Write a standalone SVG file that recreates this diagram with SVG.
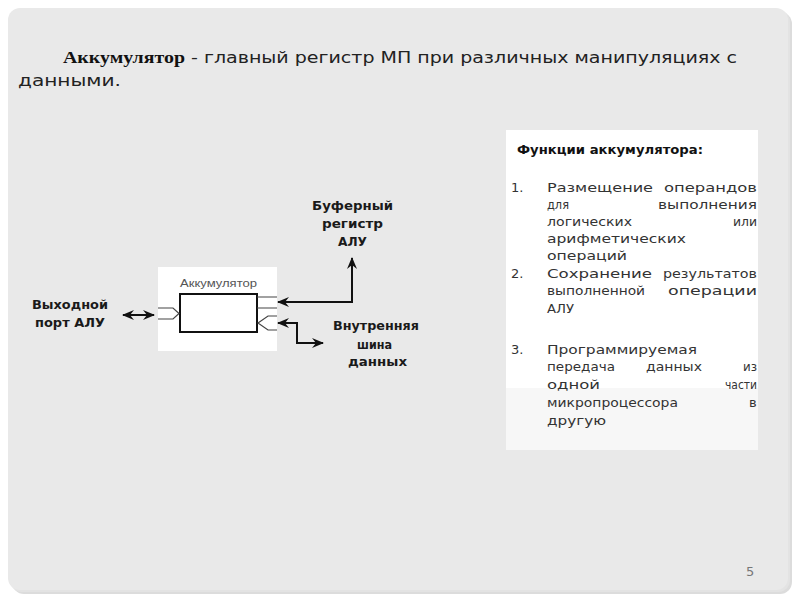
<svg xmlns="http://www.w3.org/2000/svg" width="800" height="600" viewBox="0 0 800 600">
<defs>
<style>
.t{font-family:"DejaVu Sans","Liberation Sans",sans-serif;fill:#222}
.lbl{font-family:"DejaVu Sans","Liberation Sans",sans-serif;font-weight:bold;font-size:12.5px;fill:#1a1a1a}
.li{font-family:"DejaVu Sans","Liberation Sans",sans-serif;font-size:13px;fill:#333}
.ln{stroke:#111;stroke-width:2;fill:none}
.thin{stroke:#444;stroke-width:1.2;fill:none}
</style>
<marker id="ah" viewBox="0 0 12 10" refX="11" refY="5" markerWidth="12" markerHeight="10" markerUnits="userSpaceOnUse" orient="auto-start-reverse">
<path d="M0,0 L12,5 L0,10 L4,5 Z" fill="#111"/>
</marker>
</defs>
<rect width="800" height="600" fill="#fff"/>
<rect x="12" y="12" width="780" height="582" rx="12" fill="#dcdcdc"/>
<rect x="10" y="10" width="780" height="582" rx="12" fill="#e3e3e3"/>
<rect x="8" y="8" width="780" height="582" rx="12" fill="#e9e9e9"/>

<g id="title">
<text x="63" y="63" font-family="Liberation Serif,serif" font-weight="bold" font-size="17" fill="#111" textLength="122" lengthAdjust="spacingAndGlyphs">Аккумулятор</text>
<text class="t" x="191" y="63" font-size="16" textLength="546" lengthAdjust="spacingAndGlyphs">- главный регистр МП при различных манипуляциях с</text>
<text class="t" x="18" y="86" font-size="16" textLength="103" lengthAdjust="spacingAndGlyphs">данными.</text>
</g>

<g id="accumulator">
<rect x="158" y="267" width="119" height="84" fill="#fff"/>
<text x="180" y="287" font-family="Liberation Sans,sans-serif" font-size="10.5" fill="#555" textLength="77" lengthAdjust="spacingAndGlyphs">Аккумулятор</text>
<rect x="180" y="294" width="77" height="38" fill="#fff" stroke="#111" stroke-width="2"/>
<path class="thin" d="M158,308 H173 L179,313.5 L173,319 H158"/>
<path class="thin" d="M257,297 H277 M257,308 H277"/>
<path class="thin" d="M277,316 H268 L258,323 L268,330 H277"/>
</g>

<g id="out-port">
<text class="lbl" x="32" y="309" textLength="76" lengthAdjust="spacingAndGlyphs">Выходной</text>
<text class="lbl" x="35" y="327" textLength="70" lengthAdjust="spacingAndGlyphs">порт АЛУ</text>
</g>
<g id="buffer">
<text class="lbl" x="312" y="210" textLength="81" lengthAdjust="spacingAndGlyphs">Буферный</text>
<text class="lbl" x="322" y="228" textLength="61" lengthAdjust="spacingAndGlyphs">регистр</text>
<text class="lbl" x="338" y="246" textLength="29" lengthAdjust="spacingAndGlyphs">АЛУ</text>
</g>
<g id="bus">
<text class="lbl" x="333" y="330" textLength="86" lengthAdjust="spacingAndGlyphs">Внутренняя</text>
<text class="lbl" x="357" y="349" textLength="35" lengthAdjust="spacingAndGlyphs">шина</text>
<text class="lbl" x="348" y="366" textLength="59" lengthAdjust="spacingAndGlyphs">данных</text>
</g>

<g id="connectors">
<path class="ln" d="M123,315 H154" marker-start="url(#ah)" marker-end="url(#ah)"/>
<path class="ln" d="M278,302 H352 V258" marker-start="url(#ah)" marker-end="url(#ah)"/>
<path class="ln" d="M278,323 H297 V343 H323" marker-start="url(#ah)" marker-end="url(#ah)"/>
</g>

<g id="functions">
<rect x="506" y="130" width="252" height="320" fill="#fff"/>
<rect x="506" y="388" width="252" height="62" fill="#f7f7f7"/>
<text x="517" y="154" font-family="DejaVu Sans,Liberation Sans,sans-serif" font-weight="bold" font-size="12.5" fill="#111" textLength="186" lengthAdjust="spacingAndGlyphs">Функции аккумулятора:</text>
<text class="li" x="511" y="192">1.</text>
<text class="li" x="547" y="192" textLength="106" lengthAdjust="spacingAndGlyphs">Размещение</text><text class="li" x="664" y="192" textLength="93" lengthAdjust="spacingAndGlyphs">операндов</text>
<text class="li" x="547" y="209" textLength="22" lengthAdjust="spacingAndGlyphs">для</text><text class="li" x="658" y="209" textLength="99" lengthAdjust="spacingAndGlyphs">выполнения</text>
<text class="li" x="547" y="226" textLength="85" lengthAdjust="spacingAndGlyphs">логических</text><text class="li" x="733" y="226" textLength="24" lengthAdjust="spacingAndGlyphs">или</text>
<text class="li" x="547" y="243" textLength="139" lengthAdjust="spacingAndGlyphs">арифметических</text>
<text class="li" x="547" y="260" textLength="80" lengthAdjust="spacingAndGlyphs">операций</text>
<text class="li" x="511" y="278">2.</text>
<text class="li" x="547" y="278" textLength="105" lengthAdjust="spacingAndGlyphs">Сохранение</text><text class="li" x="663" y="278" textLength="94" lengthAdjust="spacingAndGlyphs">результатов</text>
<text class="li" x="547" y="295" textLength="98" lengthAdjust="spacingAndGlyphs">выполненной</text><text class="li" x="668" y="295" textLength="89" lengthAdjust="spacingAndGlyphs">операции</text>
<text class="li" x="547" y="313" textLength="27" lengthAdjust="spacingAndGlyphs">АЛУ</text>
<text class="li" x="511" y="354">3.</text>
<text class="li" x="547" y="354" textLength="150" lengthAdjust="spacingAndGlyphs">Программируемая</text>
<text class="li" x="547" y="371" textLength="68" lengthAdjust="spacingAndGlyphs">передача</text><text class="li" x="646" y="371" textLength="56" lengthAdjust="spacingAndGlyphs">данных</text><text class="li" x="743" y="371" textLength="14" lengthAdjust="spacingAndGlyphs">из</text>
<text class="li" x="547" y="389" textLength="53" lengthAdjust="spacingAndGlyphs">одной</text><text class="li" x="725" y="389" textLength="32" lengthAdjust="spacingAndGlyphs">части</text>
<text class="li" x="547" y="407" textLength="131" lengthAdjust="spacingAndGlyphs">микропроцессора</text><text class="li" x="749" y="407" font-size="11">в</text>
<text class="li" x="547" y="425" textLength="59" lengthAdjust="spacingAndGlyphs">другую</text>
</g>

<text x="746" y="576" font-family="DejaVu Sans,Liberation Sans,sans-serif" font-size="13" fill="#777">5</text>
</svg>
